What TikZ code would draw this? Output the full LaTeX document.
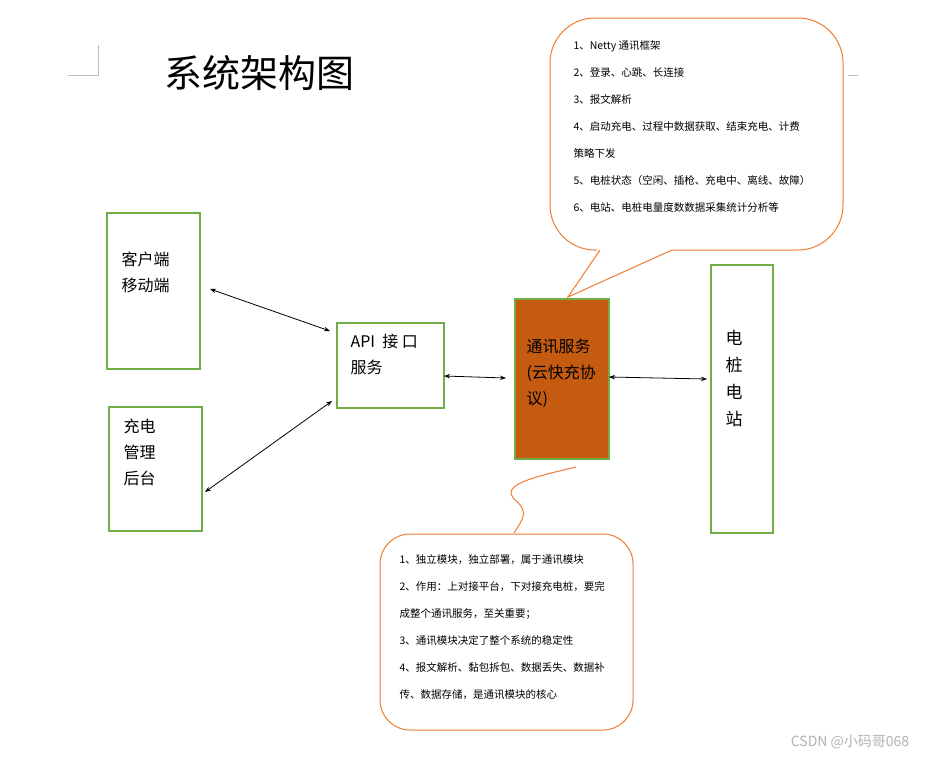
\documentclass[tikz,border=0pt]{standalone}
\usepackage{fontspec}
\setmainfont{Noto Sans CJK SC}
\usetikzlibrary{arrows.meta}
\definecolor{gbox}{HTML}{70AD47}
\definecolor{obox}{HTML}{ED7D31}
\definecolor{txbrown}{HTML}{C55A11}
\tikzset{
 gb/.style={draw=gbox,line width=1.5pt,fill=white},
 co/.style={draw=obox,line width=1pt,fill=white,rounded corners=45pt},
 arr/.style={{Stealth[length=6pt]}-{Stealth[length=6pt]},line width=0.8pt},
 bt/.style={font=\fontsize{16}{26}\selectfont,align=left,anchor=north west},
 ct/.style={font=\fontsize{10.5}{27}\selectfont,align=left,anchor=north west},
}
\begin{document}
\begin{tikzpicture}[x=1pt,y=-1pt]
\useasboundingbox (0,0) rectangle (928,758);
\draw[gray!50] (68,75) -- (98,75) -- (98,45);
\draw[gray!50] (848,75) -- (858,75);
\node[font=\fontsize{38}{38}\selectfont] (title) at (259,73) {系统架构图};
% boxes
\draw[gb] (107,213) rectangle (200,369);
\node[bt] (kh) at (118,248) {客户端\\移动端};
\coordinate (khr) at (210,289);
\draw[gb] (109,407) rectangle (202,531);
\node[bt] (cd) at (120,415) {充电\\管理\\后台};
\coordinate (cdr) at (205,492);
\draw[gb] (337,323) rectangle (444,408);
\node[bt] (api) at (347,331) {API\ \ 接\ 口\\服务};
\coordinate (apil1) at (330,331);
\coordinate (apil2) at (332,401);
\coordinate (apir) at (444,376);
\draw[gbox,line width=1.5pt,fill=txbrown] (515,299) rectangle (609,459);
\node[bt] (tx) at (523,336) {通讯服务\\(云快充协\\议)};
\coordinate (txl) at (506,378);
\coordinate (txr) at (609,377);
\draw[gb] (711,265) rectangle (773,533);
\node[bt,font=\fontsize{17}{27}\selectfont] (dz) at (722,327) {电\\桩\\电\\站};
\coordinate (dzl) at (707,379);
\draw[arr] (khr) -- (apil1);
\draw[arr] (cdr) -- (apil2);
\draw[arr] (apir) -- (txl);
\draw[arr] (txr) -- (dzl);
% top callout
\draw[co] (550,18) rectangle (843,250);
\fill[white] (598,249) -- (568,297) -- (674,249) -- cycle;
\draw[obox,line width=1pt] (600,250) -- (568,297) -- (672,250);
\node[ct] (t1) at (570,37) {1、Netty 通讯框架\\2、登录、心跳、长连接\\3、报文解析\\4、启动充电、过程中数据获取、结束充电、计费\\策略下发\\5、电桩状态（空闲、插枪、充电中、离线、故障）\\6、电站、电桩电量度数数据采集统计分析等};
% bottom callout
\draw[co,rounded corners=30pt] (380,534) rectangle (633,730);
\draw[obox,line width=1pt] (576,467) .. controls (530,478) and (500,485) .. (515,500) .. controls (530,512) and (522,520) .. (514,533);
\node[ct] (b1) at (396,551) {1、独立模块，独立部署，属于通讯模块\\2、作用：上对接平台，下对接充电桩，要完\\成整个通讯服务，至关重要；\\3、通讯模块决定了整个系统的稳定性\\4、报文解析、黏包拆包、数据丢失、数据补\\传、数据存储，是通讯模块的核心};
\node[font=\fontsize{14}{14}\selectfont,text=gray!60] (wm) at (850,742) {CSDN @小码哥068};
\end{tikzpicture}
\end{document}
